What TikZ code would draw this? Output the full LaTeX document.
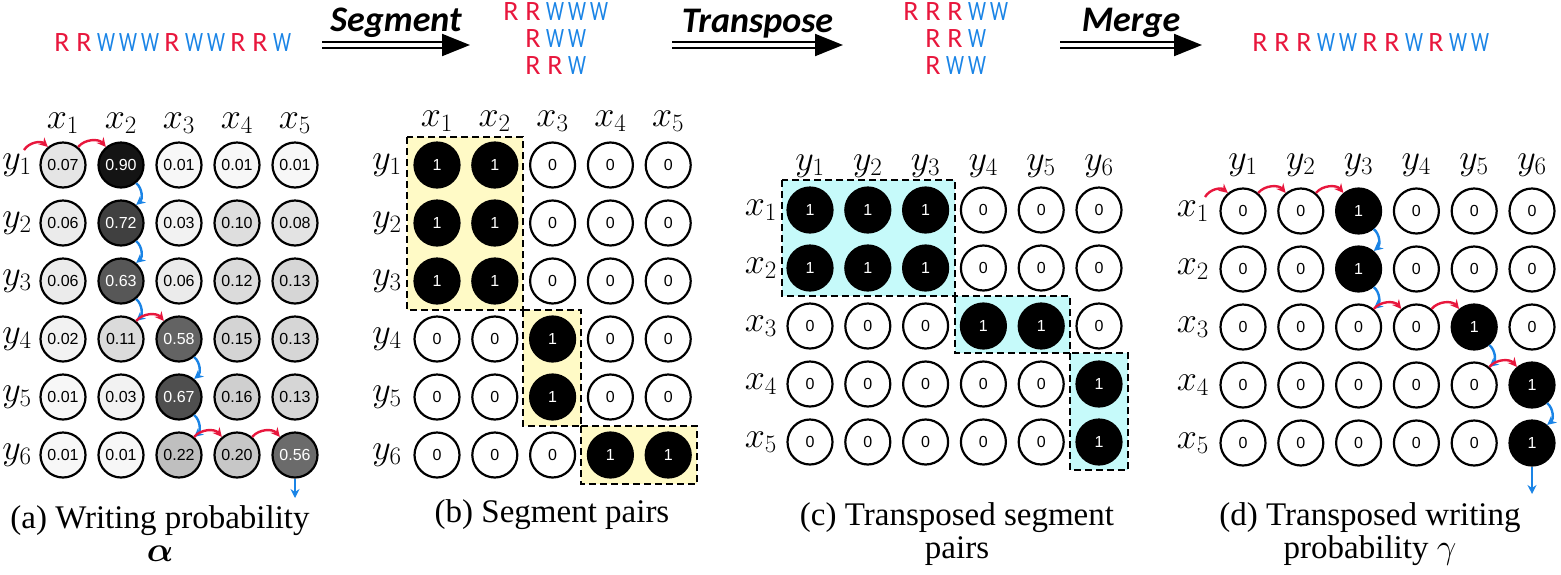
\documentclass[tikz,border=0pt]{standalone}
\usepackage{amsmath, amssymb}
\usepackage{fontspec}
\setmainfont{Liberation Serif}
\setsansfont{Liberation Sans}
\newfontfamily\seqfont{Carlito}
\usetikzlibrary{arrows.meta, calc}
\definecolor{rd}{HTML}{E8173D}
\definecolor{bl}{HTML}{1A84E6}
\definecolor{segyel}{HTML}{FFFAC6}
\definecolor{segcyan}{HTML}{C6FAFA}
\newcommand{\cR}{\makebox[22pt]{\color{rd}R}}
\newcommand{\cW}{\makebox[22pt]{\color{bl}\scalebox{0.72}[1]{W}}}
\newcommand{\lbl}[1]{\scalebox{1.45}{$#1$}}

\begin{document}
\begin{tikzpicture}[x=1pt, y=-1pt,
  cell/.style={circle, draw=black, line width=2.2pt, minimum size=45pt, inner sep=0pt,
    font=\fontsize{16}{16}\selectfont\sffamily},
  one/.style={cell, fill=black, text=white},
  lab/.style={font=\fontsize{24}{24}\selectfont},
  subcap/.style={font=\fontsize{33}{33}\selectfont, align=center},
  seq/.style={font=\seqfont\fontsize{28}{27}\selectfont, align=center, inner sep=0pt},
  stepar/.style={draw=black, line width=2pt, double=white, double distance=4.5pt,
    -{Triangle[length=28pt, width=22pt]}},
  steplab/.style={font=\seqfont\bfseries\itshape\fontsize{36}{36}\selectfont},
  gopr/.style={rd, line width=2.4pt, -{Stealth[length=9pt, width=9pt]}, bend left=50},
  gob/.style={bl, line width=2.4pt, -{Stealth[length=9pt, width=9pt]}, bend left=50},
  pair/.style={draw=black, line width=1.8pt, dash pattern=on 7pt off 4pt}]
  \useasboundingbox (0,0) rectangle (1561,574);

  % top row: sequences and steps
  \node[seq] (seqin) at (172,43) {\cR\cR\cW\cW\cW\cR\cW\cW\cR\cR\cW};
  \node[seq] (seqseg) at (555,39) {\cR\cR\cW\cW\cW\\\cR\cW\cW\\\cR\cR\cW};
  \node[seq] (seqtr) at (955,39) {\cR\cR\cR\cW\cW\\\cR\cR\cW\\\cR\cW\cW};
  \node[seq] (seqout) at (1370,43) {\cR\cR\cR\cW\cW\cR\cR\cW\cR\cW\cW};
  \coordinate (s1a) at (322,45);  \coordinate (s1b) at (470,45);
  \coordinate (s2a) at (672,45);  \coordinate (s2b) at (843,45);
  \coordinate (s3a) at (1060,45); \coordinate (s3b) at (1202,45);
  \draw[stepar] (s1a) -- node[steplab, above=3pt] {Segment} (s1b);
  \draw[stepar] (s2a) -- node[steplab, above=3pt] {Transpose} (s2b);
  \draw[stepar] (s3a) -- node[steplab, above=3pt] {Merge} (s3b);

  % (a) writing probability
  \foreach \row [count=\i] in {{0.07,0.90,0.01,0.01,0.01},{0.06,0.72,0.03,0.10,0.08},
      {0.06,0.63,0.06,0.12,0.13},{0.02,0.11,0.58,0.15,0.13},
      {0.01,0.03,0.67,0.16,0.13},{0.01,0.01,0.22,0.20,0.56}} {
    \node[lab] at (17,{165+58*(\i-1)}) {\lbl{y_{\i}}};
    \foreach \v [count=\j] in \row {
      \pgfmathtruncatemacro\p{100*\v+3}
      \pgfmathtruncatemacro\w{\v>0.5}
      \ifnum\w=1 \def\tc{white}\else\def\tc{black}\fi
      \node[cell, fill=black!\p, text=\tc] (a-\i-\j) at ({63+58*(\j-1)},{165+58*(\i-1)}) {\v};
    }
  }
  \foreach \j in {1,...,5}
    \node[lab] at ({63+58*(\j-1)},123) {\lbl{x_{\j}}};
  \coordinate (a-start) at (24,150);
  \coordinate (a-end) at (295,498);
  \draw[gopr] (a-start) to (a-1-1.130);
  \draw[gopr] (a-1-1.50) to (a-1-2.130);
  \draw[gob] (a-1-2.-50) to (a-2-2.50);
  \draw[gob] (a-2-2.-50) to (a-3-2.50);
  \draw[gob] (a-3-2.-50) to (a-4-2.50);
  \draw[gopr] (a-4-2.50) to (a-4-3.130);
  \draw[gob] (a-4-3.-50) to (a-5-3.50);
  \draw[gob] (a-5-3.-50) to (a-6-3.50);
  \draw[gopr] (a-6-3.50) to (a-6-4.130);
  \draw[gopr] (a-6-4.50) to (a-6-5.130);
  \draw[bl, line width=2.4pt, -{Stealth[length=9pt, width=9pt]}] (a-6-5.south) -- (a-end);
  \node[subcap] at (160,534) {(a) Writing probability\\\scalebox{1.4}{$\boldsymbol{\alpha}$}};

  % (b) segment pairs
  \fill[segyel] (407,137) rectangle (523,310);
  \fill[segyel] (523,310) rectangle (581,426);
  \fill[segyel] (581,426) rectangle (697,484);
  \foreach \row [count=\i] in {{1,1,0,0,0},{1,1,0,0,0},{1,1,0,0,0},
      {0,0,1,0,0},{0,0,1,0,0},{0,0,0,1,1}} {
    \node[lab] at (387,{165+58*(\i-1)}) {\lbl{y_{\i}}};
    \foreach \v [count=\j] in \row {
      \ifnum\v=1 \def\st{one}\else\def\st{cell}\fi
      \node[\st] (b-\i-\j) at ({437+57.8*(\j-1)},{165+58*(\i-1)}) {\v};
    }
  }
  \foreach \j in {1,...,5}
    \node[lab] at ({437+57.8*(\j-1)},121) {\lbl{x_{\j}}};
  \draw[pair] (407,137) rectangle (523,310);
  \draw[pair] (523,310) rectangle (581,426);
  \draw[pair] (581,426) rectangle (697,484);
  \node[subcap] at (552,515) {(b) Segment pairs};

  % (c) transposed segment pairs
  \fill[segcyan] (782,180) rectangle (955,296);
  \fill[segcyan] (955,296) rectangle (1070,353);
  \fill[segcyan] (1070,353) rectangle (1128,470);
  \foreach \row [count=\i] in {{1,1,1,0,0,0},{1,1,1,0,0,0},{0,0,0,1,1,0},
      {0,0,0,0,0,1},{0,0,0,0,0,1}} {
    \node[lab] at (761,{210+58*(\i-1)}) {\lbl{x_{\i}}};
    \foreach \v [count=\j] in \row {
      \ifnum\v=1 \def\st{one}\else\def\st{cell}\fi
      \node[\st] (c-\i-\j) at ({810+57.8*(\j-1)},{210+58*(\i-1)}) {\v};
    }
  }
  \foreach \j in {1,...,6}
    \node[lab] at ({810+57.8*(\j-1)},166) {\lbl{y_{\j}}};
  \draw[pair] (782,180) rectangle (955,296);
  \draw[pair] (955,296) rectangle (1070,353);
  \draw[pair] (1070,353) rectangle (1128,470);
  \node[subcap] at (957,534) {(c) Transposed segment\\pairs};

  % (d) transposed writing probability
  \foreach \row [count=\i] in {{0,0,1,0,0,0},{0,0,1,0,0,0},{0,0,0,0,1,0},
      {0,0,0,0,0,1},{0,0,0,0,0,1}} {
    \node[lab] at (1193,{211+58*(\i-1)}) {\lbl{x_{\i}}};
    \foreach \v [count=\j] in \row {
      \ifnum\v=1 \def\st{one}\else\def\st{cell}\fi
      \node[\st] (d-\i-\j) at ({1243+57.8*(\j-1)},{211+58*(\i-1)}) {\v};
    }
  }
  \foreach \j in {1,...,6}
    \node[lab] at ({1243+57.8*(\j-1)},165) {\lbl{y_{\j}}};
  \coordinate (d-start) at (1205,197);
  \coordinate (d-end) at (1532,494);
  \draw[gopr] (d-start) to (d-1-1.130);
  \draw[gopr] (d-1-1.50) to (d-1-2.130);
  \draw[gopr] (d-1-2.50) to (d-1-3.130);
  \draw[gob] (d-1-3.-50) to (d-2-3.50);
  \draw[gob] (d-2-3.-50) to (d-3-3.50);
  \draw[gopr] (d-3-3.50) to (d-3-4.130);
  \draw[gopr] (d-3-4.50) to (d-3-5.130);
  \draw[gob] (d-3-5.-50) to (d-4-5.50);
  \draw[gopr] (d-4-5.50) to (d-4-6.130);
  \draw[gob] (d-4-6.-50) to (d-5-6.50);
  \draw[bl, line width=2.4pt, -{Stealth[length=9pt, width=9pt]}] (d-5-6.south) -- (d-end);
  \node[subcap] at (1370,534) {(d) Transposed writing\\probability \scalebox{1.4}{$\gamma$}};
\end{tikzpicture}
\end{document}
